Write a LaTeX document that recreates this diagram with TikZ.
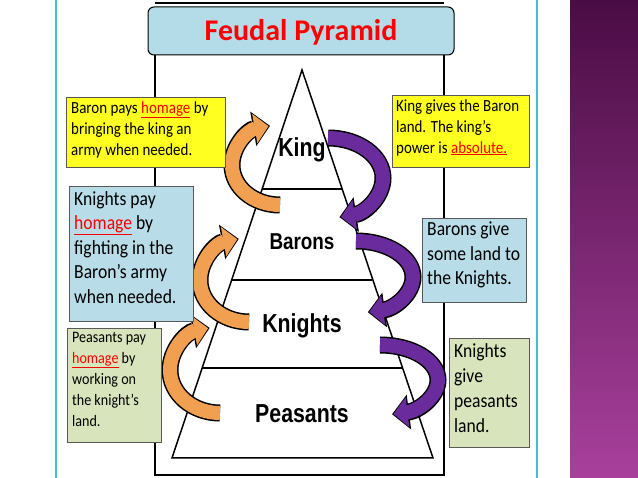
\documentclass[tikz,border=0pt]{standalone}
\usepackage{fontspec}
\setmainfont{Carlito}
\newfontfamily\arialf{Liberation Sans}
\usetikzlibrary{arrows.meta}
\definecolor{ttl}{HTML}{B4DCE8}
\definecolor{yel}{HTML}{FFFF20}
\definecolor{lblue}{HTML}{B8DCE8}
\definecolor{lgreen}{HTML}{D8E4BC}
\definecolor{orn}{HTML}{F0A050}
\definecolor{pur}{HTML}{6A2C9C}
\definecolor{cyanl}{HTML}{3CC0D0}
\definecolor{stripA}{HTML}{4A0C44}
\definecolor{stripB}{HTML}{A8409C}
\newcommand{\hw}[1]{\textcolor{red}{\underline{#1}}}
\newcommand{\bandarrow}[6]{% color, center, rx, ry, start, end
  \draw[black,line width=17pt,-{Triangle[width=34pt,length=17pt]}] #2 ++(#5:#3 and #4) arc[start angle=#5,end angle=#6,x radius=#3,y radius=#4];
  \draw[#1,line width=14pt,-{Triangle[width=29pt,length=14pt]},shorten >=1.5pt] #2 ++(#5:#3 and #4) arc[start angle=#5,end angle=#6,x radius=#3,y radius=#4];}
\tikzset{box/.style={draw=gray!70!black,line width=0.8pt},
  txt/.style={anchor=north west,align=left,inner sep=0pt,xscale=0.88},
  lvl/.style={font=\arialf\bfseries\fontsize{26}{26}\selectfont,xscale=0.82}}
\begin{document}
\begin{tikzpicture}[x=1pt,y=-1pt]
\useasboundingbox (0,0) rectangle (638,478);
\fill[white] (0,0) rectangle (638,478);
\shade[top color=stripA,bottom color=stripB] (570,0) rectangle (638,478);
\draw[cyanl,line width=1.5pt] (56,-2) -- (56,480) (537,-2) -- (537,480);
\draw[line width=2.5pt] (155,3) -- (444,3);
\draw[line width=1.2pt] (155,50) rectangle (444,475);
\draw[line width=1pt,fill=ttl,rounded corners=6pt] (148,7) rectangle (454,55);
\node (title) at (301,32) {\textcolor{red}{\bfseries\fontsize{30}{30}\selectfont Feudal Pyramid}};
% pyramid
\draw[fill=white,line width=1.5pt] (302,70) -- (172,458) -- (433,458) -- cycle;
\coordinate (l1a) at (262,189); \coordinate (l1b) at (342,189);
\coordinate (l2a) at (232,280); \coordinate (l2b) at (372,280);
\coordinate (l3a) at (202,368); \coordinate (l3b) at (403,368);
\draw[line width=1.5pt] (l1a)--(l1b) (l2a)--(l2b) (l3a)--(l3b);
\node[lvl] (king) at (302,150) {King};
\node[lvl,font=\arialf\bfseries\fontsize{23}{23}\selectfont] (barons) at (302,242) {Barons};
\node[lvl] (knights) at (302,326) {Knights};
\node[lvl] (peasants) at (302,414) {Peasants};
% arrows
\bandarrow{orn}{(280,165)}{48}{40}{90}{258}
\bandarrow{orn}{(249,280)}{49}{42}{90}{258}
\bandarrow{orn}{(220,370)}{50}{43}{90}{258}
\bandarrow{pur}{(328,178)}{55}{40}{-90}{78}
\bandarrow{pur}{(356,277)}{57}{36}{-90}{78}
\bandarrow{pur}{(380,380)}{58}{35}{-90}{78}
% boxes
\draw[box,fill=yel] (66,97) rectangle (225,167);
\node[txt,font=\fontsize{17}{21}\selectfont] (t1) at (71,101) {Baron pays \hw{homage} by\\bringing the king an\\army when needed.};
\draw[box,fill=yel] (392,95) rectangle (529,167);
\node[txt,font=\fontsize{17}{21}\selectfont] (t2) at (396,99) {King gives the Baron\\land. The king's\\power is \hw{absolute.}};
\draw[box,fill=lblue] (69,186) rectangle (193,321);
\node[txt,font=\fontsize{20}{24.5}\selectfont] (t3) at (74,191) {Knights pay\\\hw{homage} by\\fighting in the\\Baron's army\\when needed.};
\draw[box,fill=lblue] (422,218) rectangle (526,302);
\node[txt,font=\fontsize{20}{24.5}\selectfont] (t4) at (427,222) {Barons give\\some land to\\the Knights.};
\draw[box,fill=lgreen] (67,328) rectangle (161,442);
\node[txt,font=\fontsize{16}{21}\selectfont] (t5) at (72,332) {Peasants pay\\\hw{homage} by\\working on\\the knight's\\land.};
\draw[box,fill=lgreen] (449,338) rectangle (529,447);
\node[txt,font=\fontsize{20}{25}\selectfont] (t6) at (454,343) {Knights\\give\\peasants\\land.};
\end{tikzpicture}
\end{document}
